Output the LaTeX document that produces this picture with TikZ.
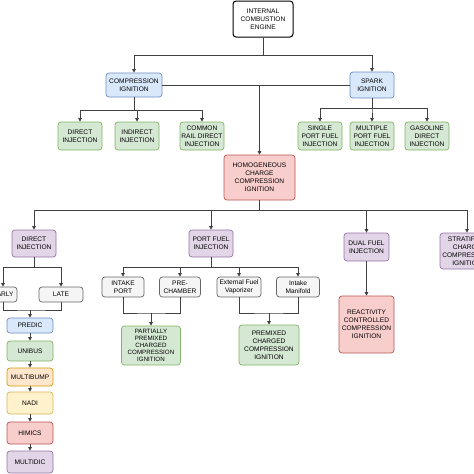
\documentclass[tikz,border=0pt]{standalone}
\usepackage{fontspec}
\setmainfont{Liberation Sans}
\usetikzlibrary{arrows.meta}
\definecolor{blfill}{HTML}{DAE8FC}\definecolor{bldraw}{HTML}{6C8EBF}
\definecolor{grfill}{HTML}{D5E8D4}\definecolor{grdraw}{HTML}{82B366}
\definecolor{rdfill}{HTML}{F8CECC}\definecolor{rddraw}{HTML}{B85450}
\definecolor{pufill}{HTML}{E1D5E7}\definecolor{pudraw}{HTML}{9673A6}
\definecolor{gyfill}{HTML}{F5F5F5}\definecolor{gydraw}{HTML}{666666}
\definecolor{orfill}{HTML}{FFE6CC}\definecolor{ordraw}{HTML}{D79B00}
\definecolor{yefill}{HTML}{FFF2CC}\definecolor{yedraw}{HTML}{D6B656}
\tikzset{
  box/.style={draw,rounded corners=3pt,align=center,inner sep=0pt,line width=0.7pt,
    font=\fontsize{6.6}{8}\selectfont,text=black},
  sz/.style 2 args={minimum width=#1pt,minimum height=#2pt},
  bluebox/.style={box,fill=blfill,draw=bldraw},
  greenbox/.style={box,fill=grfill,draw=grdraw},
  redbox/.style={box,fill=rdfill,draw=rddraw},
  purplebox/.style={box,fill=pufill,draw=pudraw},
  graybox/.style={box,fill=gyfill,draw=gydraw},
  orangebox/.style={box,fill=orfill,draw=ordraw},
  yellowbox/.style={box,fill=yefill,draw=yedraw},
  ln/.style={draw=black!75,line width=0.8pt},
  arr/.style={ln,-{Triangle[length=3.5pt,width=3.5pt]}}
}
\begin{document}
\begin{tikzpicture}[x=1pt,y=-1pt]
\useasboundingbox (0,0) rectangle (474,474);
\clip (0,0) rectangle (474,474);
% top levels
\node[box,fill=white,draw=black,line width=1pt,sz={60}{36}] (ice) at (263,19) {INTERNAL\\COMBUSTION\\ENGINE};
\node[bluebox,sz={56}{24}] (ci) at (134,85) {COMPRESSION\\IGNITION};
\node[bluebox,sz={44}{26}] (si) at (372,85) {SPARK\\IGNITION};
\node[greenbox,sz={44}{28}] (di) at (80,136) {DIRECT\\INJECTION};
\node[greenbox,sz={44}{28}] (idi) at (137,136) {INDIRECT\\INJECTION};
\node[greenbox,sz={44}{28}] (crdi) at (202,136) {COMMON\\RAIL DIRECT\\INJECTION};
\node[greenbox,sz={44}{28}] (spfi) at (320,136) {SINGLE\\PORT FUEL\\INJECTION};
\node[greenbox,sz={44}{28}] (mpfi) at (372,136) {MULTIPLE\\PORT FUEL\\INJECTION};
\node[greenbox,sz={44}{28}] (gdi) at (427,136) {GASOLINE\\DIRECT\\INJECTION};
\node[redbox,sz={71}{45}] (hcci) at (259.5,177.5) {HOMOGENEOUS\\CHARGE\\COMPRESSION\\IGNITION};
% hcci branches
\node[purplebox,sz={44}{27}] (di2) at (34,243.5) {DIRECT\\INJECTION};
\node[purplebox,sz={44}{27}] (pfi) at (211,243.5) {PORT FUEL\\INJECTION};
\node[purplebox,sz={45}{28}] (dfi) at (366.5,247) {DUAL FUEL\\INJECTION};
\node[purplebox,sz={54}{36}] (scci) at (467,251) {STRATIFIED\\CHARGE\\COMPRESSION\\IGNITION};
% direct injection column
\node[graybox,sz={28}{15}] (early) at (3,294.5) {EARLY};
\node[graybox,sz={44}{15}] (late) at (61,294.5) {LATE};
\node[bluebox,sz={46}{15}] (predic) at (30,325.5) {PREDIC};
\node[greenbox,sz={46}{20}] (unibus) at (30,351) {UNIBUS};
\node[orangebox,sz={46}{18}] (multibump) at (30,377) {MULTIBUMP};
\node[yellowbox,sz={46}{22}] (nadi) at (30,403) {NADI};
\node[redbox,sz={46}{22}] (himics) at (30,433) {HIMICS};
\node[purplebox,sz={46}{22}] (multidic) at (30,462) {MULTIDIC};
% port fuel injection
\node[graybox,sz={42}{20}] (ip) at (123,287) {INTAKE\\PORT};
\node[graybox,sz={41}{20}] (pre) at (180,287) {PRE-\\CHAMBER};
\node[graybox,sz={44}{20}] (efv) at (239,287) {External Fuel\\Vaporizer};
\node[graybox,sz={43}{20}] (im) at (298,287) {Intake\\Manifold};
\node[greenbox,sz={59}{39},font=\fontsize{6.2}{7}\selectfont] (ppcci) at (151,345.5) {PARTIALLY\\PREMIXED\\CHARGED\\COMPRESSION\\IGNITION};
\node[greenbox,sz={60}{40}] (pmcci) at (269,345) {PREMIXED\\CHARGED\\COMPRESSION\\IGNITION};
\node[redbox,sz={55}{57}] (rcci) at (366.5,324.5) {REACTIVITY\\CONTROLLED\\COMPRESSION\\IGNITION};
% connectors
\draw[arr] (ice.south) -- ++(0,18) -| (ci.north);
\draw[arr] (ice.south) -- ++(0,18) -| (si.north);
\draw[ln] (ci.east) -- (si.west);
\draw[arr] (ci.east -| hcci.north) -- (hcci.north);
\foreach \n in {di,idi,crdi} \draw[arr] (ci.south) -- ++(0,13) -| (\n.north);
\foreach \n in {spfi,mpfi,gdi} \draw[arr] (si.south) -- ++(0,10) -| (\n.north);
\foreach \n in {di2,pfi,dfi,scci} \draw[arr] (hcci.south) -- ++(0,10) -| (\n.north);
\foreach \n in {early,late} \draw[arr] (di2.south) -- ++(0,10) -| (\n.north);
\coordinate (jd) at (30,310);
\draw[ln] (early.south) |- (jd) -| (late.south);
\draw[arr] (jd) -- (predic.north);
\foreach \a/\b in {predic/unibus,unibus/multibump,multibump/nadi,nadi/himics,himics/multidic}
  \draw[arr] (\a.south) -- (\b.north);
\foreach \n in {ip,pre,efv,im} \draw[arr] (pfi.south) -- ++(0,10) -| (\n.north);
\coordinate (jp) at (151,313);
\draw[ln] (ip.south) |- (jp) -| (pre.south);
\draw[arr] (jp) -- (ppcci.north);
\coordinate (jq) at (269,313);
\draw[ln] (efv.south) |- (jq) -| (im.south);
\draw[arr] (jq) -- (pmcci.north);
\draw[arr] (dfi.south) -- (rcci.north);
\end{tikzpicture}
\end{document}
